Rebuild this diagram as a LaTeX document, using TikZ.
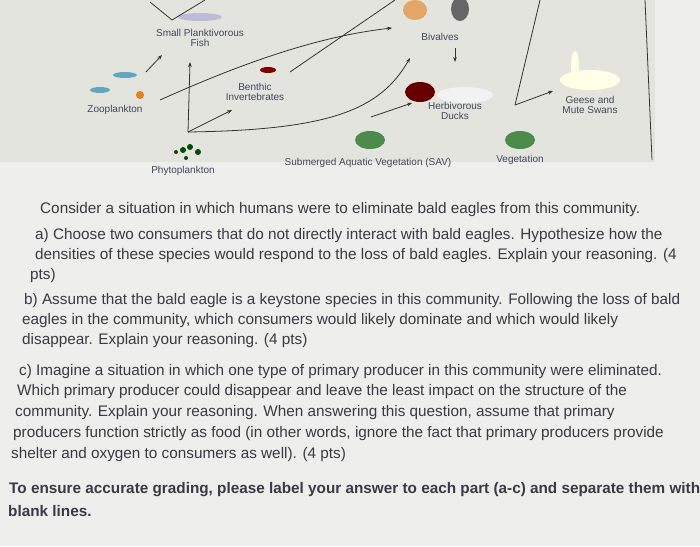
\documentclass[tikz,border=0pt]{standalone}
\usepackage{fontspec}
\setmainfont{Liberation Sans}
\usetikzlibrary{arrows.meta}
\definecolor{panel}{HTML}{E4E4DE}
\definecolor{page}{HTML}{EEEEEC}
\definecolor{txt}{HTML}{3A3A44}
\definecolor{lbl}{HTML}{40485A}
\begin{document}
\begin{tikzpicture}[x=1pt,y=-1pt,
  lab/.style={font=\fontsize{10}{10}\selectfont,text=lbl,align=center,inner sep=0},
  q/.style={anchor=west,font=\fontsize{15.3}{16}\selectfont,text=txt,inner sep=0},
  arr/.style={-{Stealth[length=5pt]},thick,black!80},
  ln/.style={thick,black!80}]
\useasboundingbox (0,0) rectangle (700,546);
\fill[page] (0,0) rectangle (700,546);
\fill[panel] (0,0) rectangle (655,162);
% pictures
\fill[gray!70!blue!40] (200,17) ellipse (22 and 4);
\fill[brown!60!orange!70] (415,10) ellipse (12 and 10);
\fill[black!60] (460,9) ellipse (9 and 12);
\fill[red!40!black] (420,92) ellipse (15 and 10);
\fill[white!90!gray] (465,95) ellipse (28 and 8);
\fill[yellow!10!white] (590,80) ellipse (30 and 10);
\fill[yellow!10!white] (575,65) ellipse (4 and 14);
\fill[green!30!black] (183,150) circle (3) (176,152) circle (2) (190,147) circle (3) (198,152) circle (3) (186,158) circle (2);
\foreach \c in {(370,140),(520,140)} \fill[green!35!black!70] \c ellipse (15 and 9);
\fill[cyan!50!gray] (125,75) ellipse (12 and 3) (100,90) ellipse (10 and 3);
\fill[orange!60!brown] (140,95) circle (4);
\fill[red!50!black] (268,70) ellipse (8 and 3);
% labels
\node[lab] (fish) at (200,38) {Small Planktivorous\\Fish};
\node[lab] (biv) at (440,37) {Bivalves};
\node[lab] (ben) at (255,92) {Benthic\\Invertebrates};
\node[lab] (zoo) at (115,110) {Zooplankton};
\node[lab] (duck) at (455,111) {Herbivorous\\Ducks};
\node[lab] (goose) at (590,105) {Geese and\\Mute Swans};
\node[lab] (phy) at (183,171) {Phytoplankton};
\node[lab] (sav) at (368,163) {Submerged Aquatic Vegetation (SAV)};
\node[lab] (veg) at (520,160) {Vegetation};
% connectors
\coordinate (pv) at (188,132);
\coordinate (vv) at (515,105);
\coordinate (top1) at (395,0);
\coordinate (top2) at (540,0);
\coordinate (ta) at (150,2); \coordinate (tb) at (172,20); \coordinate (tc) at (205,0);
\draw[ln] (ta) -- (tb) -- (tc);
\draw[arr] (146,72) -- (162,55);
\draw[arr] (160,100) .. controls (260,55) and (330,35) .. (392,28);
\draw[arr] (pv) -- (190,62);
\draw[arr] (pv) -- (232,110);
\draw[arr] (pv) .. controls (330,130) and (380,110) .. (410,58);
\draw[ln] (290,72) -- (top1);
\draw[arr] (455,48) -- (455,62);
\draw[arr] (371,117) -- (412,103);
\draw[ln] (vv) -- (top2);
\draw[arr] (vv) -- (553,91);
\draw[ln] (645,0) -- (652,160);
% text
\node[q] (t1) at (40,210) {Consider a situation in which humans were to eliminate bald eagles from this community.};
\node[q] at (35,236) {a) Choose two consumers that do not directly interact with bald eagles. Hypothesize how the};
\node[q] at (35,256) {densities of these species would respond to the loss of bald eagles. Explain your reasoning. (4};
\node[q] at (30,276) {pts)};
\node[q] at (24,301) {b) Assume that the bald eagle is a keystone species in this community. Following the loss of bald};
\node[q] at (22,321) {eagles in the community, which consumers would likely dominate and which would likely};
\node[q] at (22,341) {disappear. Explain your reasoning. (4 pts)};
\node[q] at (19,372) {c) Imagine a situation in which one type of primary producer in this community were eliminated.};
\node[q] at (17,392) {Which primary producer could disappear and leave the least impact on the structure of the};
\node[q] at (15,413) {community. Explain your reasoning. When answering this question, assume that primary};
\node[q] at (13,434) {producers function strictly as food (in other words, ignore the fact that primary producers provide};
\node[q] at (11,455) {shelter and oxygen to consumers as well). (4 pts)};
\node[q,font=\fontsize{15.3}{16}\selectfont\bfseries] at (9,490) {To ensure accurate grading, please label your answer to each part (a-c) and separate them with};
\node[q,font=\fontsize{15.3}{16}\selectfont\bfseries] at (8,511) {blank lines.};
\end{tikzpicture}
\end{document}
